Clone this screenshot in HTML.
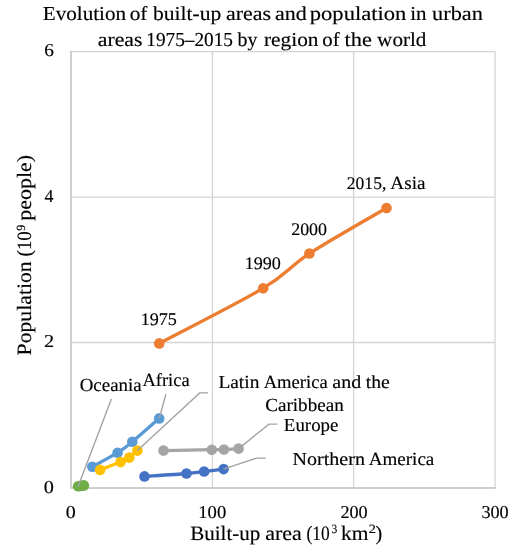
<!DOCTYPE html>
<html><head><meta charset="utf-8">
<style>
html,body{margin:0;padding:0;background:#fff;width:513px;height:550px;overflow:hidden}
svg{display:block;will-change:transform}
text{font-family:"Liberation Serif",serif;text-rendering:geometricPrecision;fill:#000;stroke:#000;stroke-width:0.15px}
</style></head>
<body>
<svg width="513" height="550" viewBox="0 0 513 550">
<rect width="513" height="550" fill="#fff"/>
<g stroke="#d4d4d4" stroke-width="1.3" fill="none">
<line x1="71" y1="51.6" x2="495" y2="51.6"/>
<line x1="71" y1="197.2" x2="495" y2="197.2"/>
<line x1="71" y1="342.5" x2="495" y2="342.5"/>
<line x1="212.4" y1="51.6" x2="212.4" y2="488"/>
<line x1="353.6" y1="51.6" x2="353.6" y2="488"/>
<line x1="495.0" y1="51.6" x2="495.0" y2="488"/>
</g>
<g stroke="#bfbfbf" stroke-width="1.5" fill="none">
<line x1="71" y1="51" x2="71" y2="488"/>
<line x1="70.3" y1="488" x2="495.6" y2="488"/>
</g>
<g stroke-width="3.30" fill="none" stroke-linejoin="round" stroke-linecap="round">
<path stroke="#ed7d31" d="M159.20,343.40 C176.53,334.20 238.17,303.18 263.20,288.20 C288.23,273.22 288.85,266.87 309.40,253.50 C329.95,240.13 373.65,215.58 386.50,208.00"/>
<path stroke="#5b9bd5" d="M92.30,466.80 C96.52,464.45 110.93,456.87 117.60,452.70 C124.27,448.53 125.37,447.52 132.30,441.80 C139.23,436.08 154.72,422.30 159.20,418.40"/>
<path stroke="#ffc000" d="M100.10,469.90 C103.52,468.60 115.73,464.15 120.60,462.10 C125.47,460.05 126.50,459.52 129.30,457.60 C132.10,455.68 136.05,451.77 137.40,450.60"/>
<path stroke="#a5a5a5" d="M163.50,450.60 C171.55,450.45 201.72,449.88 211.80,449.70 C221.88,449.52 219.53,449.68 224.00,449.50 C228.47,449.32 236.17,448.75 238.60,448.60"/>
<path stroke="#4472c4" d="M144.50,476.40 C151.50,475.92 176.57,474.32 186.50,473.50 C196.43,472.68 197.92,472.23 204.10,471.50 C210.28,470.77 220.35,469.50 223.60,469.10"/>
<path stroke="#70ad47" d="M78.10,486.30 C78.42,486.25 79.35,486.10 80.00,486.00 C80.65,485.90 81.35,485.80 82.00,485.70 C82.65,485.60 83.58,485.45 83.90,485.40"/>
</g>
<g fill="#ed7d31"><circle cx="159.2" cy="343.4" r="5.30"/><circle cx="263.2" cy="288.2" r="5.30"/><circle cx="309.4" cy="253.5" r="5.30"/><circle cx="386.5" cy="208.0" r="5.30"/></g>
<g fill="#5b9bd5"><circle cx="92.3" cy="466.8" r="5.30"/><circle cx="117.6" cy="452.7" r="5.30"/><circle cx="132.3" cy="441.8" r="5.30"/><circle cx="159.2" cy="418.4" r="5.30"/></g>
<g fill="#ffc000"><circle cx="100.1" cy="469.9" r="5.30"/><circle cx="120.6" cy="462.1" r="5.30"/><circle cx="129.3" cy="457.6" r="5.30"/><circle cx="137.4" cy="450.6" r="5.30"/></g>
<g fill="#a5a5a5"><circle cx="163.5" cy="450.6" r="5.30"/><circle cx="211.8" cy="449.7" r="5.30"/><circle cx="224.0" cy="449.5" r="5.30"/><circle cx="238.6" cy="448.6" r="5.30"/></g>
<g fill="#4472c4"><circle cx="144.5" cy="476.4" r="5.30"/><circle cx="186.5" cy="473.5" r="5.30"/><circle cx="204.1" cy="471.5" r="5.30"/><circle cx="223.6" cy="469.1" r="5.30"/></g>
<g fill="#70ad47"><circle cx="78.1" cy="486.3" r="5.30"/><circle cx="80.0" cy="486.0" r="5.30"/><circle cx="82.0" cy="485.7" r="5.30"/><circle cx="83.9" cy="485.4" r="5.30"/></g>
<g stroke="#a3a3a3" stroke-width="1.4" fill="none">
<polyline points="77.9,486.9 111.4,399.1"/>
<polyline points="159.2,418.4 165.9,394.3"/>
<polyline points="137.4,450.6 199.7,392.9 208.1,392.9"/>
<polyline points="238.6,448.6 269.0,424.1 277.3,424.1"/>
<polyline points="223.6,469.1 256.7,458.1 265.8,458.1"/>
</g>
<text x="42.77" y="20.20" font-size="19.80" textLength="83.31" lengthAdjust="spacingAndGlyphs">Evolution</text>
<text x="129.70" y="20.20" font-size="19.80" textLength="17.74" lengthAdjust="spacingAndGlyphs">of</text>
<text x="152.94" y="20.20" font-size="19.80" textLength="68.35" lengthAdjust="spacingAndGlyphs">built-up</text>
<text x="225.95" y="20.20" font-size="19.80" textLength="45.11" lengthAdjust="spacingAndGlyphs">areas</text>
<text x="275.05" y="20.20" font-size="19.80" textLength="31.71" lengthAdjust="spacingAndGlyphs">and</text>
<text x="309.82" y="20.20" font-size="19.80" textLength="96.50" lengthAdjust="spacingAndGlyphs">population</text>
<text x="410.27" y="20.20" font-size="19.80" textLength="16.31" lengthAdjust="spacingAndGlyphs">in</text>
<text x="432.14" y="20.20" font-size="19.80" textLength="50.76" lengthAdjust="spacingAndGlyphs">urban</text>
<text x="97.80" y="45.70" font-size="19.80" textLength="44.61" lengthAdjust="spacingAndGlyphs">areas</text>
<text x="146.27" y="45.70" font-size="19.80" textLength="86.67" lengthAdjust="spacingAndGlyphs">1975–2015</text>
<text x="237.57" y="45.70" font-size="19.80" textLength="19.86" lengthAdjust="spacingAndGlyphs">by</text>
<text x="264.03" y="45.70" font-size="19.80" textLength="54.48" lengthAdjust="spacingAndGlyphs">region</text>
<text x="322.36" y="45.70" font-size="19.80" textLength="17.34" lengthAdjust="spacingAndGlyphs">of</text>
<text x="344.59" y="45.70" font-size="19.80" textLength="27.23" lengthAdjust="spacingAndGlyphs">the</text>
<text x="377.14" y="45.70" font-size="19.80" textLength="49.29" lengthAdjust="spacingAndGlyphs">world</text>
<text x="43.88" y="493.00" font-size="18.20" textLength="10.12" lengthAdjust="spacingAndGlyphs">0</text>
<text x="44.09" y="347.15" font-size="18.20" textLength="10.14" lengthAdjust="spacingAndGlyphs">2</text>
<text x="44.54" y="201.63" font-size="18.20" textLength="8.98" lengthAdjust="spacingAndGlyphs">4</text>
<text x="44.27" y="56.37" font-size="18.20" textLength="9.64" lengthAdjust="spacingAndGlyphs">6</text>
<text x="65.89" y="517.60" font-size="18.20" textLength="9.99" lengthAdjust="spacingAndGlyphs">0</text>
<text x="198.29" y="517.70" font-size="18.20" textLength="27.95" lengthAdjust="spacingAndGlyphs">100</text>
<text x="340.41" y="517.80" font-size="18.20" textLength="27.29" lengthAdjust="spacingAndGlyphs">200</text>
<text x="481.42" y="517.60" font-size="18.20" textLength="27.31" lengthAdjust="spacingAndGlyphs">300</text>
<text x="190.16" y="539.60" font-size="20.40" textLength="70.18" lengthAdjust="spacingAndGlyphs">Built-up</text>
<text x="265.21" y="539.60" font-size="20.40" textLength="36.58" lengthAdjust="spacingAndGlyphs">area</text>
<text x="306.44" y="539.60" font-size="20.40" textLength="23.23" lengthAdjust="spacingAndGlyphs">(10</text>
<text x="331.60" y="533.30" font-size="12.60" textLength="5.76" lengthAdjust="spacingAndGlyphs">3</text>
<text x="341.13" y="539.60" font-size="20.40" textLength="27.43" lengthAdjust="spacingAndGlyphs">km</text>
<text x="368.66" y="533.30" font-size="12.60" textLength="7.19" lengthAdjust="spacingAndGlyphs">2</text>
<text x="375.55" y="539.60" font-size="20.40" textLength="6.71" lengthAdjust="spacingAndGlyphs">)</text>
<text transform="translate(31.00,0) rotate(-90)" x="-355.45" y="0" font-size="20.40" textLength="94.12" lengthAdjust="spacingAndGlyphs">Population</text>
<text transform="translate(31.00,0) rotate(-90)" x="-256.38" y="0" font-size="20.40" textLength="25.14" lengthAdjust="spacingAndGlyphs">(10</text>
<text transform="translate(24.80,0) rotate(-90)" x="-230.84" y="0" font-size="12.60" textLength="5.93" lengthAdjust="spacingAndGlyphs">9</text>
<text transform="translate(31.00,0) rotate(-90)" x="-220.67" y="0" font-size="20.40" textLength="65.76" lengthAdjust="spacingAndGlyphs">people)</text>
<text x="140.68" y="325.00" font-size="17.80" textLength="36.25" lengthAdjust="spacingAndGlyphs">1975</text>
<text x="244.68" y="269.30" font-size="17.80" textLength="36.22" lengthAdjust="spacingAndGlyphs">1990</text>
<text x="291.24" y="235.10" font-size="17.80" textLength="35.78" lengthAdjust="spacingAndGlyphs">2000</text>
<text x="346.85" y="189.30" font-size="17.80" textLength="39.45" lengthAdjust="spacingAndGlyphs">2015,</text>
<text x="390.39" y="189.30" font-size="18.40" textLength="35.13" lengthAdjust="spacingAndGlyphs">Asia</text>
<text x="79.71" y="390.70" font-size="18.40" textLength="61.99" lengthAdjust="spacingAndGlyphs">Oceania</text>
<text x="142.41" y="386.20" font-size="18.40" textLength="47.28" lengthAdjust="spacingAndGlyphs">Africa</text>
<text x="218.40" y="388.00" font-size="18.40" textLength="40.95" lengthAdjust="spacingAndGlyphs">Latin</text>
<text x="263.65" y="388.00" font-size="18.40" textLength="64.02" lengthAdjust="spacingAndGlyphs">America</text>
<text x="332.38" y="388.00" font-size="18.40" textLength="28.87" lengthAdjust="spacingAndGlyphs">and</text>
<text x="365.66" y="388.00" font-size="18.40" textLength="24.08" lengthAdjust="spacingAndGlyphs">the</text>
<text x="265.21" y="410.90" font-size="18.40" textLength="78.50" lengthAdjust="spacingAndGlyphs">Caribbean</text>
<text x="283.89" y="430.80" font-size="18.40" textLength="54.52" lengthAdjust="spacingAndGlyphs">Europe</text>
<text x="292.52" y="464.70" font-size="18.40" textLength="72.41" lengthAdjust="spacingAndGlyphs">Northern</text>
<text x="368.66" y="464.70" font-size="18.40" textLength="65.66" lengthAdjust="spacingAndGlyphs">America</text>
</svg>
</body></html>
